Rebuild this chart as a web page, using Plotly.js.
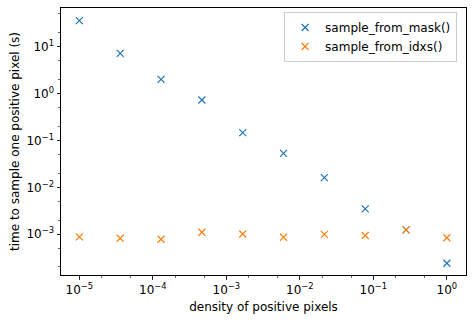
<!DOCTYPE html>
<html><head><meta charset="utf-8">
<script src="https://cdn.plot.ly/plotly-3.0.1.min.js"></script>
<style>html,body{margin:0;padding:0;background:#fff}#c{width:474px;height:322px}</style>
</head><body><div id="c"></div>
<script>
const density = [1e-5, 3.594e-5, 1.292e-4, 4.642e-4, 1.668e-3, 5.995e-3, 2.154e-2, 7.743e-2, 0.2783, 1.0];
const maskTimes = [36, 7.2, 2.0, 0.73, 0.147, 0.053, 0.0161, 0.00346, 0.00124, 0.00024];
const idxsTimes = [0.000875, 0.00082, 0.00078, 0.0011, 0.00101, 0.00086, 0.00099, 0.00094, 0.00124, 0.00084];
const seriesNames = ["sample_from_mask()", "sample_from_idxs()"];
const xTickVals = [1e-5, 1e-4, 1e-3, 1e-2, 1e-1, 1];
const xTickText = ["10<sup>−5</sup>","10<sup>−4</sup>","10<sup>−3</sup>","10<sup>−2</sup>","10<sup>−1</sup>","10<sup>0</sup>"];
const yTickVals = [1e-3, 1e-2, 1e-1, 1, 10];
const yTickText = ["10<sup>−3</sup>","10<sup>−2</sup>","10<sup>−1</sup>","10<sup>0</sup>","10<sup>1</sup>"];
const xTitle = "density of positive pixels";
const yTitle = "time to sample one positive pixel (s)";

const font = {family: "DejaVu Sans", size: 12, color: "#000"};
const mk = (c) => ({symbol: "x-thin-open", size: 7, color: c, line: {color: c, width: 1.2}});
const traces = [
  {x: density, y: maskTimes, name: seriesNames[0], mode: "markers", type: "scatter", marker: mk("#1f77b4")},
  {x: density, y: idxsTimes, name: seriesNames[1], mode: "markers", type: "scatter", marker: mk("#ff7f0e")}
];
const axisCommon = {
  type: "log", showgrid: false, zeroline: false, showline: true, mirror: true,
  linecolor: "#000", linewidth: 1, ticks: "outside", ticklen: 3.5, tickwidth: 0.8, tickcolor: "#000",
  tickfont: font, tickmode: "array",
  minor: {ticks: "outside", ticklen: 2, tickwidth: 0.6, tickcolor: "#000", showgrid: false}
};
const layout = {
  width: 474, height: 322, paper_bgcolor: "#fff", plot_bgcolor: "#fff",
  margin: {l: 61, r: 8, t: 8, b: 47},
  font: font, showlegend: true,
  xaxis: Object.assign({}, axisCommon, {range: [-5.25, 0.26], tickvals: xTickVals, ticktext: xTickText,
    title: {text: xTitle, font: font, standoff: 6}}),
  yaxis: Object.assign({}, axisCommon, {range: [-3.87, 1.825], tickvals: yTickVals, ticktext: yTickText,
    title: {text: yTitle, font: font, standoff: 4}}),
  legend: {x: 0.978, y: 0.985, xanchor: "right", yanchor: "top", bordercolor: "#cccccc", borderwidth: 1,
    bgcolor: "rgba(255,255,255,0.8)", font: font, tracegroupgap: 0, itemwidth: 30}
};
Plotly.newPlot("c", traces, layout, {staticPlot: true, displayModeBar: false});
</script></body></html>
